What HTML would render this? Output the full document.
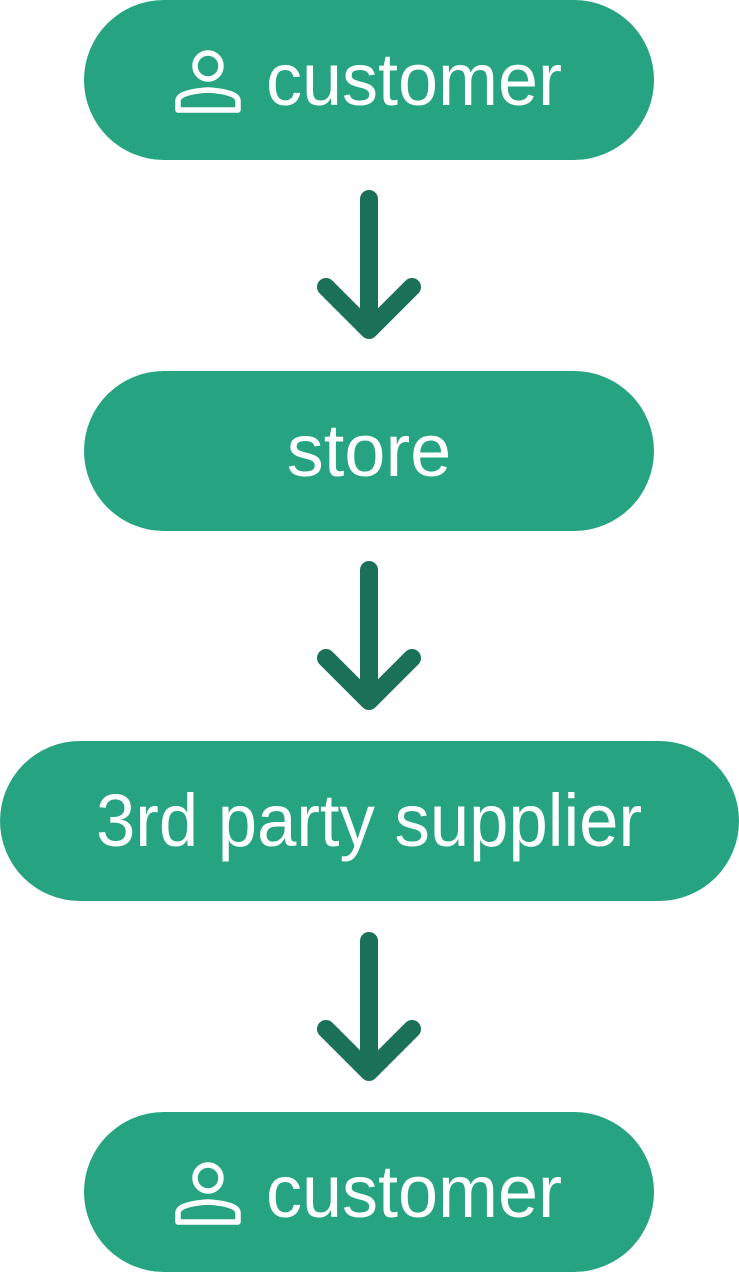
<!DOCTYPE html>
<html><head><style>
html,body{margin:0;padding:0;background:#fff;width:739px;height:1273px;overflow:hidden}
</style></head><body>
<svg width="739" height="1273" viewBox="0 0 739 1273" xmlns="http://www.w3.org/2000/svg">
<g fill="#26a482">
<rect x="84" y="0" width="570" height="160" rx="80"/>
<rect x="84" y="371" width="570" height="160" rx="80"/>
<rect x="0" y="741" width="739" height="160" rx="80"/>
<rect x="84" y="1112" width="570" height="160" rx="80"/>
</g>
<g stroke="#1b7058" stroke-width="18" stroke-linecap="round" stroke-linejoin="round" fill="none">
<path d="M369 199V330M326 287L369 330L412 287"/>
<path d="M369 570V701M326 658L369 701L412 658"/>
<path d="M369 941V1072M326 1029L369 1072L412 1029"/>
</g>
<g stroke="#fff" stroke-width="5.5" fill="none">
<circle cx="208" cy="66" r="13"/>
<path d="M178 110V101Q178 92 208 90Q238 92 238 101V110Z" stroke-linejoin="round"/>
<circle cx="208" cy="1178" r="13"/>
<path d="M178 1222V1213Q178 1204 208 1202Q238 1204 238 1213V1222Z" stroke-linejoin="round"/>
</g>
<g fill="#fff" font-family="Liberation Sans, sans-serif" font-size="74">
<text x="266" y="105" textLength="296" lengthAdjust="spacingAndGlyphs">customer</text>
<text x="369" y="476" text-anchor="middle">store</text>
<text x="369" y="846" text-anchor="middle" textLength="546" lengthAdjust="spacingAndGlyphs">3rd party supplier</text>
<text x="266" y="1217" textLength="296" lengthAdjust="spacingAndGlyphs">customer</text>
</g>
</svg>
</body></html>
